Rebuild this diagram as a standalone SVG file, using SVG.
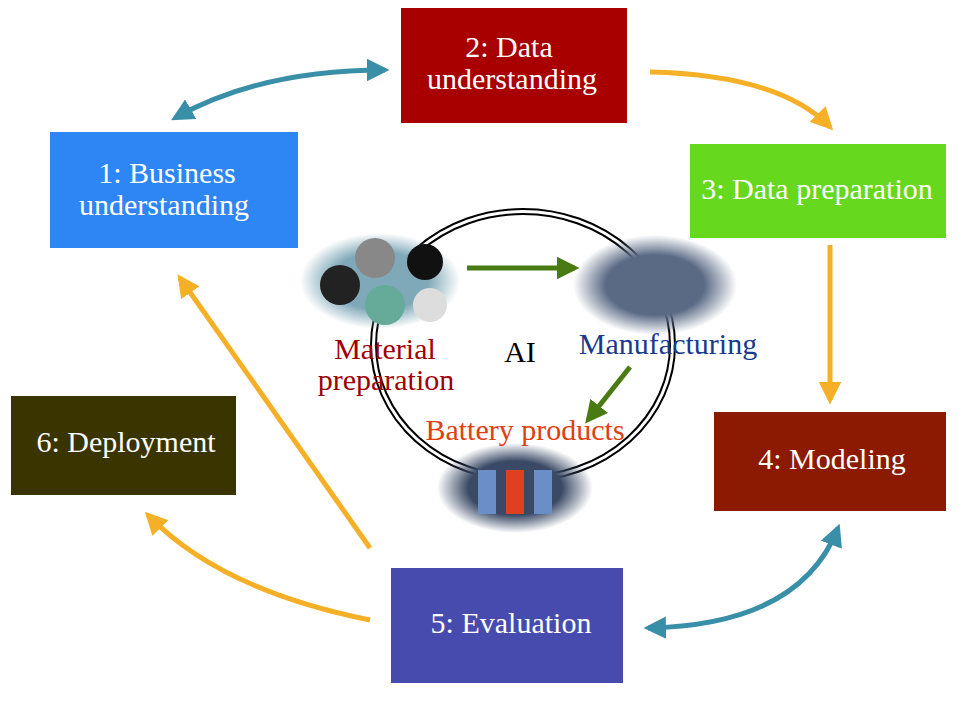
<svg xmlns="http://www.w3.org/2000/svg" width="962" height="705" viewBox="0 0 962 705">
<style>
.n{font-family:"Liberation Serif",serif;font-size:30px;fill:#fff;text-anchor:middle}
.c{font-family:"Liberation Serif",serif;font-size:30px;text-anchor:middle}
.o{fill:none;stroke:#F5B027;stroke-width:5}
.t{fill:none;stroke:#3A8FA8;stroke-width:5}
.g{fill:none;stroke:#4A7A12;stroke-width:5}
</style>
<defs>
<marker id="ao" viewBox="0 0 10 10" refX="8" refY="5" markerWidth="4.5" markerHeight="4.5" orient="auto-start-reverse"><path d="M0,0L10,5L0,10z" fill="#F5B027"/></marker>
<marker id="at" viewBox="0 0 10 10" refX="8" refY="5" markerWidth="4.5" markerHeight="4.5" orient="auto-start-reverse"><path d="M0,0L10,5L0,10z" fill="#3A8FA8"/></marker>
<marker id="ag" viewBox="0 0 10 10" refX="8" refY="5" markerWidth="4.5" markerHeight="4.5" orient="auto"><path d="M0,0L10,5L0,10z" fill="#4A7A12"/></marker>
<radialGradient id="p1"><stop offset="0.6" stop-color="#7fa8b8"/><stop offset="1" stop-color="#7fa8b8" stop-opacity="0"/></radialGradient>
<radialGradient id="p2"><stop offset="0.6" stop-color="#5a6a85"/><stop offset="1" stop-color="#5a6a85" stop-opacity="0"/></radialGradient>
<radialGradient id="p3"><stop offset="0.6" stop-color="#3a4a66"/><stop offset="1" stop-color="#3a4a66" stop-opacity="0"/></radialGradient>
</defs>
<rect width="962" height="705" fill="#fff"/>
<g id="ring">
<ellipse cx="523" cy="345" rx="152" ry="136" fill="none" stroke="#000" stroke-width="2"/>
<ellipse cx="523" cy="345" rx="147" ry="131" fill="none" stroke="#000" stroke-width="2"/>
</g>
<g id="material"><ellipse cx="380" cy="281" rx="80" ry="48" fill="url(#p1)"/>
<circle cx="340" cy="285" r="20" fill="#222"/><circle cx="375" cy="258" r="20" fill="#888"/><circle cx="425" cy="262" r="18" fill="#111"/><circle cx="385" cy="305" r="20" fill="#6a9"/><circle cx="430" cy="305" r="17" fill="#ddd"/>
<text class="c" fill="#A00000" x="385" y="359">Material</text><text class="c" fill="#A00000" x="386" y="390">preparation</text></g>
<g id="manufacturing"><ellipse cx="655" cy="285" rx="82" ry="50" fill="url(#p2)"/>
<text class="c" fill="#1A3A8C" x="668" y="354">Manufacturing</text></g>
<g id="battery"><ellipse cx="515" cy="488" rx="78" ry="45" fill="url(#p3)"/>
<rect x="478" y="470" width="18" height="44" fill="#6a8fc8"/><rect x="506" y="470" width="18" height="44" fill="#e04020"/><rect x="534" y="470" width="18" height="44" fill="#6a8fc8"/>
<text class="c" fill="#E04010" x="525" y="440">Battery products</text></g>
<g id="ai"><text class="c" fill="#000" x="520" y="362">AI</text></g>
<g id="n1"><rect x="50" y="132" width="248" height="116" fill="#2E86F5"/><text class="n" x="167" y="183">1: Business</text><text class="n" x="164" y="215">understanding</text></g>
<g id="n2"><rect x="401" y="8" width="226" height="115" fill="#A80000"/><text class="n" x="509" y="57">2: Data</text><text class="n" x="512" y="89">understanding</text></g>
<g id="n3"><rect x="690" y="144" width="256" height="94" fill="#66D81E"/><text class="n" x="817" y="199">3: Data preparation</text></g>
<g id="n4"><rect x="714" y="412" width="232" height="99" fill="#8B1A00"/><text class="n" x="832" y="469">4: Modeling</text></g>
<g id="n5"><rect x="391" y="568" width="232" height="115" fill="#464BAD"/><text class="n" x="511" y="633">5: Evaluation</text></g>
<g id="n6"><rect x="11" y="396" width="225" height="99" fill="#3A3400"/><text class="n" x="126" y="452">6: Deployment</text></g>
<g id="connectors">
<path class="t" d="M175,118 Q260,70 385,70" marker-start="url(#at)" marker-end="url(#at)"/>
<path class="o" d="M650,72 Q780,75 830,127" marker-end="url(#ao)"/>
<path class="o" d="M830,245 L830,400" marker-end="url(#ao)"/>
<path class="t" d="M838,528 Q800,625 648,628" marker-start="url(#at)" marker-end="url(#at)"/>
<path class="o" d="M370,620 Q220,590 148,515" marker-end="url(#ao)"/>
<path class="o" d="M370,548 L180,278" marker-end="url(#ao)"/>
<path class="g" d="M467,268 L575,268" marker-end="url(#ag)"/>
<path class="g" d="M630,367 L588,420" marker-end="url(#ag)"/>
</g>
</svg>
